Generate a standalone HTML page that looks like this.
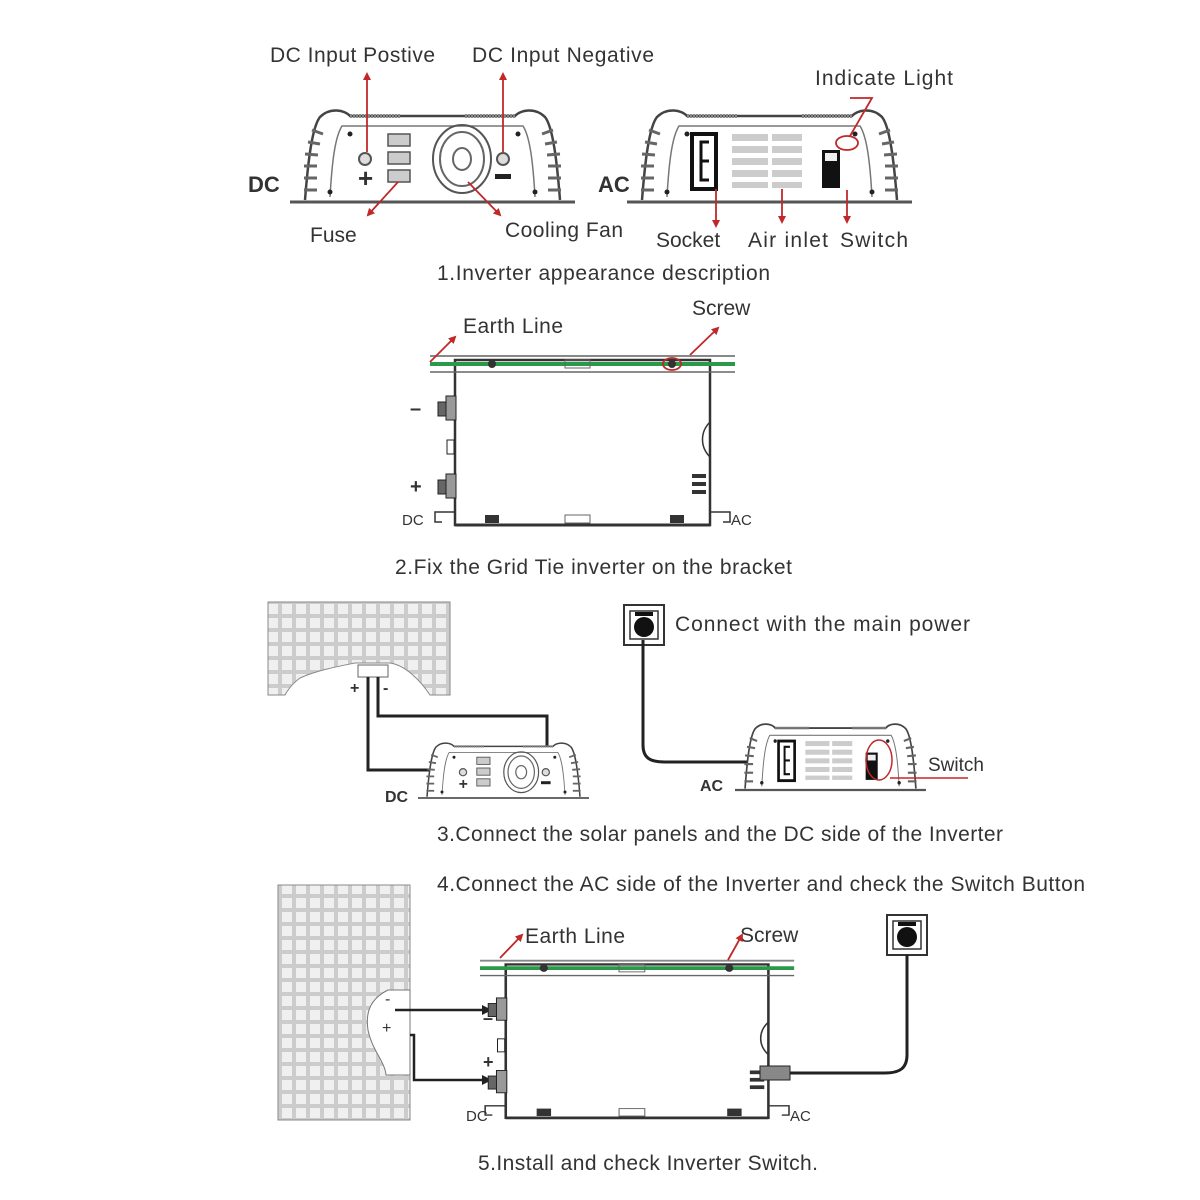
<!DOCTYPE html>
<html><head><meta charset="utf-8"><style>
html,body{margin:0;padding:0;background:#fff;}
svg{display:block}
text{font-family:"Liberation Sans",sans-serif;fill:#333;}
</style></head><body>
<svg width="1200" height="1200" viewBox="0 0 1200 1200" xmlns="http://www.w3.org/2000/svg">
<defs>
<marker id="ar" markerWidth="8" markerHeight="8" refX="6" refY="4" orient="auto" markerUnits="userSpaceOnUse"><path d="M0,0 L8,4 L0,8 z" fill="#c0282a"/></marker>
<marker id="ak" markerWidth="10" markerHeight="10" refX="8" refY="5" orient="auto" markerUnits="userSpaceOnUse"><path d="M0,0 L10,5 L0,10 z" fill="#222"/></marker>
<g id="shell">
  <path d="M0,100 L285,100" stroke="#555" stroke-width="3"/>
  <path d="M15,98 C18,60 22,25 30,15 C40,5 55,8 60,14 L225,14 C230,8 245,5 255,15 C263,25 267,60 270,98" fill="#fff" stroke="#444" stroke-width="2.5"/>
  <path d="M40,95 C42,60 45,35 52,24 L233,24 C240,35 243,60 245,95" fill="none" stroke="#777" stroke-width="1.5"/>
  <g stroke="#666" stroke-width="3">
    <line x1="18" y1="40" x2="30" y2="42"/><line x1="15" y1="52" x2="28" y2="53"/><line x1="14" y1="64" x2="27" y2="64"/><line x1="14" y1="76" x2="27" y2="76"/><line x1="14" y1="88" x2="27" y2="88"/><line x1="22" y1="28" x2="33" y2="32"/>
    <line x1="267" y1="40" x2="255" y2="42"/><line x1="270" y1="52" x2="257" y2="53"/><line x1="271" y1="64" x2="258" y2="64"/><line x1="271" y1="76" x2="258" y2="76"/><line x1="271" y1="88" x2="258" y2="88"/><line x1="263" y1="28" x2="252" y2="32"/>
  </g>
  <path d="M60,14 L110,14 M175,14 L225,14" stroke="#888" stroke-width="4" stroke-dasharray="2 1"/>
  <circle cx="40" cy="90" r="2.5" fill="#222"/><circle cx="245" cy="90" r="2.5" fill="#222"/>
  <circle cx="60" cy="32" r="2.5" fill="#222"/><circle cx="228" cy="32" r="2.5" fill="#222"/>
</g>
<g id="dcface">
  <use href="#shell"/>
  <circle cx="75" cy="57" r="6" fill="#ddd" stroke="#555" stroke-width="2"/>
  <circle cx="213" cy="57" r="6" fill="#ddd" stroke="#555" stroke-width="2"/>
  <g fill="#ccc" stroke="#555" stroke-width="1.5"><rect x="98" y="32" width="22" height="12"/><rect x="98" y="50" width="22" height="12"/><rect x="98" y="68" width="22" height="12"/></g>
  <text x="68" y="85" font-size="26" font-weight="bold" fill="#111">+</text>
  <rect x="205" y="72" width="16" height="5" fill="#222"/>
  <ellipse cx="172" cy="57" rx="29" ry="34" fill="none" stroke="#555" stroke-width="2"/>
  <ellipse cx="172" cy="57" rx="22" ry="27" fill="none" stroke="#666" stroke-width="2"/>
  <ellipse cx="172" cy="57" rx="9" ry="11" fill="none" stroke="#666" stroke-width="2"/>
</g>
<g id="acface">
  <use href="#shell"/>
  <rect x="65" y="32" width="24" height="55" fill="#fff" stroke="#111" stroke-width="4"/>
  <path d="M82,40 L74,40 L74,78 L82,78 M74,59 L82,59" fill="none" stroke="#111" stroke-width="3"/>
  <g fill="#ccc"><rect x="105" y="32" width="36" height="7"/><rect x="105" y="44" width="36" height="7"/><rect x="105" y="56" width="36" height="7"/><rect x="105" y="68" width="36" height="7"/><rect x="105" y="80" width="36" height="6"/>
  <rect x="145" y="32" width="30" height="7"/><rect x="145" y="44" width="30" height="7"/><rect x="145" y="56" width="30" height="7"/><rect x="145" y="68" width="30" height="7"/><rect x="145" y="80" width="30" height="6"/></g>
  <rect x="195" y="48" width="18" height="38" fill="#111"/>
  <rect x="198" y="51" width="12" height="8" fill="#eee"/>
</g>
<g id="bracket">
  <rect x="25" y="8" width="255" height="165" fill="#fff" stroke="#333" stroke-width="2.5"/>
  <line x1="0" y1="12" x2="305" y2="12" stroke="#2a9a4a" stroke-width="4"/>
  <line x1="0" y1="4" x2="305" y2="4" stroke="#888" stroke-width="2"/>
  <line x1="0" y1="20" x2="305" y2="20" stroke="#666" stroke-width="1.5"/>
  <path d="M25,160 L5,160 L5,170 L12,170 M280,160 L300,160 L300,170 L293,170" fill="none" stroke="#333" stroke-width="1.5"/>
  <line x1="25" y1="173" x2="280" y2="173" stroke="#333" stroke-width="3"/>
  <circle cx="62" cy="12" r="4" fill="#333"/><circle cx="242" cy="12" r="4" fill="#333"/>
  <rect x="135" y="8" width="25" height="8" fill="none" stroke="#666"/>
  <rect x="55" y="163" width="14" height="8" fill="#333"/><rect x="240" y="163" width="14" height="8" fill="#333"/><rect x="135" y="163" width="25" height="8" fill="none" stroke="#666"/>
  <rect x="8" y="50" width="14" height="14" fill="#666" stroke="#222"/><rect x="16" y="44" width="10" height="24" fill="#999" stroke="#222"/>
  <rect x="8" y="128" width="14" height="14" fill="#666" stroke="#222"/><rect x="16" y="122" width="10" height="24" fill="#999" stroke="#222"/>
  <rect x="17" y="88" width="7" height="14" fill="#fff" stroke="#222"/>
  <path d="M280,70 C270,80 270,95 280,105" fill="none" stroke="#333" stroke-width="1.5"/>
  <g fill="#333"><rect x="262" y="122" width="14" height="4"/><rect x="262" y="130" width="14" height="4"/><rect x="262" y="138" width="14" height="4"/></g>
</g>
<pattern id="cells" width="14" height="14" patternUnits="userSpaceOnUse"><rect width="14" height="14" fill="#ccc"/><rect x="2" y="2" width="10" height="10" fill="#f0f0f0"/></pattern>
<g id="socket"><rect x="0" y="0" width="40" height="40" fill="#fff" stroke="#333" stroke-width="2"/><rect x="6" y="6" width="28" height="28" fill="#fff" stroke="#333" stroke-width="1.5"/><circle cx="20" cy="22" r="10" fill="#111"/><rect x="11" y="7" width="18" height="4" fill="#111"/></g>
</defs>

<!-- Section 1 -->
<text x="270" y="62" font-size="21" textLength="165">DC Input Postive</text>
<text x="472" y="62" font-size="21" textLength="182">DC Input Negative</text>
<text x="815" y="85" font-size="21" textLength="138">Indicate Light</text>
<text x="248" y="192" font-size="22" font-weight="bold" fill="#111">DC</text>
<text x="598" y="192" font-size="22" font-weight="bold" fill="#111">AC</text>
<use href="#dcface" x="290" y="102"/>
<use href="#acface" x="627" y="102"/>
<g stroke="#c0282a" stroke-width="1.8" fill="none">
<line x1="367" y1="152" x2="367" y2="74" marker-end="url(#ar)"/>
<line x1="503" y1="152" x2="503" y2="74" marker-end="url(#ar)"/>
<line x1="398" y1="182" x2="368" y2="215" marker-end="url(#ar)"/>
<line x1="468" y1="182" x2="500" y2="215" marker-end="url(#ar)"/>
<line x1="716" y1="189" x2="716" y2="226" marker-end="url(#ar)"/>
<line x1="782" y1="189" x2="782" y2="222" marker-end="url(#ar)"/>
<line x1="847" y1="190" x2="847" y2="222" marker-end="url(#ar)"/>
<ellipse cx="847" cy="143" rx="11" ry="7"/>
<path d="M850,136 L872,98 L850,98"/>
</g>
<text x="310" y="242" font-size="21">Fuse</text>
<text x="505" y="237" font-size="21" textLength="118">Cooling Fan</text>
<text x="656" y="247" font-size="21">Socket</text>
<text x="748" y="247" font-size="21" textLength="80">Air inlet</text>
<text x="840" y="247" font-size="21" textLength="68">Switch</text>
<text x="437" y="280" font-size="21" textLength="333">1.Inverter appearance description</text>

<!-- Section 2 -->
<text x="463" y="333" font-size="21" textLength="100">Earth Line</text>
<text x="692" y="315" font-size="21">Screw</text>
<use href="#bracket" x="430" y="352"/>
<g stroke="#c0282a" stroke-width="1.8" fill="none">
<line x1="430" y1="362" x2="455" y2="337" marker-end="url(#ar)"/>
<line x1="690" y1="355" x2="718" y2="328" marker-end="url(#ar)"/>
<ellipse cx="672" cy="364" rx="9" ry="6"/>
</g>
<text x="410" y="415" font-size="20" font-weight="bold">–</text>
<text x="410" y="493" font-size="20" font-weight="bold">+</text>
<text x="402" y="525" font-size="15">DC</text>
<text x="731" y="525" font-size="15">AC</text>
<text x="395" y="574" font-size="21" textLength="397">2.Fix the Grid Tie inverter on the bracket</text>

<!-- Section 3 -->
<path d="M268,602 L450,602 L450,695 L430,695 C420,680 405,665 390,663 L355,663 C340,666 318,670 300,678 C290,685 285,695 285,695 L268,695 z" fill="url(#cells)" stroke="#888"/>
<rect x="358" y="665" width="30" height="12" fill="#fff" stroke="#666"/>
<text x="350" y="693" font-size="16" font-weight="bold">+</text><text x="383" y="693" font-size="16" font-weight="bold">-</text>
<path d="M368,677 L368,770 L462,770" fill="none" stroke="#222" stroke-width="3"/>
<path d="M378,677 L378,716 L547,716 L547,768" fill="none" stroke="#222" stroke-width="3"/>
<use href="#dcface" transform="translate(418,738) scale(0.6,0.6)"/>
<text x="385" y="802" font-size="16" font-weight="bold">DC</text>
<use href="#socket" x="624" y="605"/>
<text x="675" y="631" font-size="21" textLength="295">Connect with the main power</text>
<path d="M643,640 L643,745 C643,758 650,762 665,762 L760,762" fill="none" stroke="#222" stroke-width="3"/>
<use href="#acface" transform="translate(735,718) scale(0.67,0.72)"/>
<ellipse cx="879" cy="760" rx="13" ry="20" fill="none" stroke="#c0282a" stroke-width="1.5"/>
<line x1="890" y1="778" x2="968" y2="778" stroke="#c0282a" stroke-width="1.5"/>
<text x="928" y="771" font-size="19" fill="#888">Switch</text>
<text x="700" y="791" font-size="16" font-weight="bold">AC</text>
<text x="437" y="841" font-size="21" textLength="566">3.Connect the solar panels and the DC side of the Inverter</text>
<text x="437" y="891" font-size="21" textLength="648">4.Connect the AC side of the Inverter and check the Switch Button</text>

<!-- Section 5 -->
<rect x="278" y="885" width="132" height="235" fill="url(#cells)" stroke="#888"/>
<path d="M410,990 L388,990 C372,998 365,1010 368,1030 C372,1050 385,1062 386,1075 L410,1075 z" fill="#fff" stroke="#777"/>
<text x="385" y="1004" font-size="16">-</text><text x="382" y="1033" font-size="16">+</text>
<path d="M395,1010 L490,1010" stroke="#222" stroke-width="2.5" marker-end="url(#ak)"/>
<path d="M410,1035 L414,1035 L414,1080 L490,1080" fill="none" stroke="#222" stroke-width="2.5" marker-end="url(#ak)"/>
<use href="#bracket" transform="translate(480,957) scale(1.03,0.93)"/>
<text x="483" y="1024" font-size="18" font-weight="bold">–</text>
<text x="483" y="1068" font-size="18" font-weight="bold">+</text>
<text x="525" y="943" font-size="21" textLength="100">Earth Line</text>
<text x="740" y="942" font-size="21">Screw</text>
<g stroke="#c0282a" stroke-width="1.8" fill="none">
<line x1="500" y1="958" x2="522" y2="935" marker-end="url(#ar)"/>
<line x1="728" y1="960" x2="742" y2="935" marker-end="url(#ar)"/>
</g>
<use href="#socket" x="887" y="915"/>
<path d="M907,955 L907,1055 C907,1068 900,1073 885,1073 L790,1073" fill="none" stroke="#222" stroke-width="3"/>
<rect x="760" y="1066" width="30" height="14" fill="#888" stroke="#222"/>
<text x="466" y="1121" font-size="15">DC</text>
<text x="790" y="1121" font-size="15">AC</text>
<text x="478" y="1170" font-size="21" textLength="340">5.Install and check Inverter Switch.</text>
</svg>
</body></html>
